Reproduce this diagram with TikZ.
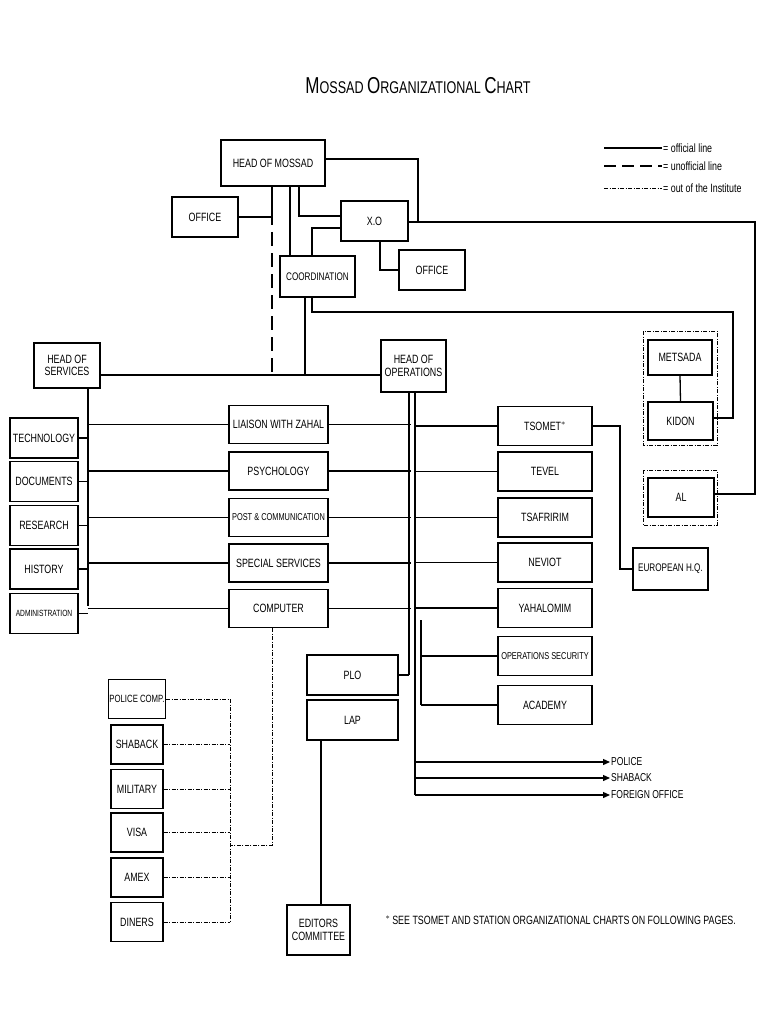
\documentclass[tikz,border=0pt]{standalone}
\usepackage{fontspec}
\setmainfont{Liberation Sans}[FakeStretch=0.74]
\usetikzlibrary{arrows.meta}
\begin{document}
\begin{tikzpicture}[x=1pt,y=-1pt,
  box/.style={draw,line width=1.2pt,inner sep=1pt,font=\fontsize{12}{12.5}\selectfont,align=center},
  ln/.style={line width=1.3pt},
  unoff/.style={line width=1.6pt,dash pattern=on 14pt off 7pt},
  outinst/.style={line width=0.9pt,dash pattern=on 4pt off 1.5pt on 1pt off 1.5pt},
  arr/.style={ln,-{Triangle[length=7pt,width=6pt]}}]
\fill[white] (0,0) rectangle (768,1024);
\useasboundingbox (0,0) rectangle (768,1024);
\node (title) at (418,86) {\fontsize{23}{24}\selectfont M\fontsize{17}{18}\selectfont OSSAD \fontsize{23}{24}\selectfont O\fontsize{17}{18}\selectfont RGANIZATIONAL \fontsize{23}{24}\selectfont C\fontsize{17}{18}\selectfont HART};
% legend
\coordinate (l1a) at (604,148); \coordinate (l1b) at (662,148);
\coordinate (l2a) at (604,166); \coordinate (l2b) at (662,166);
\coordinate (l3a) at (604,188); \coordinate (l3b) at (662,188);
\draw[ln] (l1a)--(l1b); \draw[unoff,dash pattern=on 12pt off 6pt] (l2a)--(l2b); \draw[outinst] (l3a)--(l3b);
\node[anchor=west,inner sep=1pt,font=\fontsize{12}{12}\selectfont] (t1) at (l1b) {= official line};
\node[anchor=west,inner sep=1pt,font=\fontsize{12}{12}\selectfont] (t2) at (l2b) {= unofficial line};
\node[anchor=west,inner sep=1pt,font=\fontsize{12}{12}\selectfont] (t3) at (l3b) {= out of the Institute};
% top boxes
\node[box,minimum width=104,minimum height=46] (hom) at (273,163) {HEAD OF MOSSAD};
\node[box,minimum width=66,minimum height=40] (off1) at (205,217) {OFFICE};
\node[box,minimum width=67,minimum height=40] (xo) at (374.5,221) {X.O};
\node[box,minimum width=66,minimum height=40] (off2) at (432,270) {OFFICE};
\node[box,minimum width=75,minimum height=41] (coord) at (317.5,276.5) {\fontsize{11}{12}\selectfont COORDINATION};
\node[box,minimum width=66,minimum height=45] (hos) at (67,365.5) {HEAD OF\\SERVICES};
\node[box,minimum width=65,minimum height=52] (hoo) at (413.5,366) {HEAD OF\\OPERATIONS};
\node[box,minimum width=64,minimum height=35] (mets) at (680,357.5) {METSADA};
\node[box,minimum width=65,minimum height=38] (kidon) at (680.5,421) {KIDON};
\node[box,minimum width=66,minimum height=39] (al) at (681,497.5) {AL};
\draw[outinst] (643,331) rectangle (717,445);
\draw[outinst] (643,470) rectangle (717,525);
% left column
\foreach \n/\y/\t in {tech/438/TECHNOLOGY,docs/481.5/DOCUMENTS,res/525.5/RESEARCH,hist/569/HISTORY,adm/613.5/{\fontsize{9}{10}\selectfont ADMINISTRATION}}
  \node[box,minimum width=68,minimum height=40] (\n) at (44,\y) {\t};
% middle column
\foreach \n/\y/\t in {lia/424.5/LIAISON WITH ZAHAL,psy/471/PSYCHOLOGY,post/517.5/{\fontsize{10}{11}\selectfont POST \& COMMUNICATION},spec/563/SPECIAL SERVICES,comp/608.5/COMPUTER}
  \node[box,minimum width=99,minimum height=38] (\n) at (278.5,\y) {\t};
% right column
\foreach \n/\y/\t in {tso/426/TSOMET$^{*}$,tev/471.5/TEVEL,tsa/517.5/TSAFRIRIM,nev/562.5/NEVIOT,yah/608/YAHALOMIM,ops/656/{\fontsize{10}{11}\selectfont OPERATIONS SECURITY},aca/705/ACADEMY}
  \node[box,minimum width=94,minimum height=39] (\n) at (545,\y) {\t};
\node[box,minimum width=75,minimum height=42] (euro) at (670.5,569) {\fontsize{11}{12}\selectfont EUROPEAN H.Q.};
\node[box,minimum width=91,minimum height=40] (plo) at (352.5,675) {PLO};
\node[box,minimum width=91,minimum height=40] (lap) at (352.5,720) {LAP};
\node[box,minimum width=63,minimum height=50] (ed) at (318.5,930) {EDITORS\\COMMITTEE};
\foreach \n/\y/\t in {pc/699/{\fontsize{10.5}{11}\selectfont POLICE COMP.},sha/744.5/SHABACK,mil/789/MILITARY,visa/832.5/VISA,amex/877.5/AMEX,din/922/DINERS}
  \node[box,minimum width=52,minimum height=39] (\n) at (137,\y) {\t};
% top connectors
\draw[ln] (off1.east) -- (off1.east -| 272,0);
\draw[ln] (hom.south -| 272,0) -- (272,211);
\draw[unoff] (272,211) -- (272,375);
\draw[ln] (hom.south -| 290,0) -- (coord.north -| 290,0);
\draw[ln] (hom.south -| 299,0) |- (xo.west |- 0,216);
\draw[ln] (hom.east |- 0,159) -| (418,222);
\draw[ln] (xo.east |- 0,222) -| (755,494) -- (al.east |- 0,494);
\draw[ln] (xo.south -| 380,0) |- (off2.west);
\draw[ln] (xo.west |- 0,228) -| (coord.north -| 312,0);
\draw[ln] (coord.south -| 312,0) |- (733,312) |- (kidon.east |- 0,418);
\draw[ln] (coord.south -| 305,0) -- (305,375);
\draw[ln] (hos.east |- 0,375) -- (hoo.west |- 0,375);
\draw[ln] (mets.south) -- (kidon.north);
% services
\draw[ln] (hos.south -| 88,0) -- (88,606);
\foreach \n in {tech,docs,res,hist,adm} \draw[ln] (\n.east) -- (\n.east -| 88,0);
\foreach \n in {lia,psy,post,spec,comp} {\draw[ln] (\n.west -| 88,0) -- (\n.west); \draw[ln] (\n.east) -- (\n.east -| 411,0);}
% operations
\draw[ln] (hoo.south -| 409,0) -- (409,675);
\draw[ln] (hoo.south -| 415,0) -- (415,795);
\draw[ln] (421,620) -- (421,705);
\foreach \n in {tso,tev,tsa,nev,yah} \draw[ln] (\n.west -| 415,0) -- (\n.west);
\foreach \n in {ops,aca} \draw[ln] (\n.west -| 421,0) -- (\n.west);
\draw[ln] (tso.east) -| (620,569) -- (euro.west);
\draw[ln] (plo.east) -- (plo.east -| 409,0);
\draw[ln] (lap.south -| 321,0) -- (ed.north -| 321,0);
% arrows
\coordinate (pa) at (610,762); \coordinate (sa) at (610,778); \coordinate (fa) at (610,795);
\draw[arr] (415,762) -- (pa); \draw[arr] (415,778) -- (sa); \draw[arr] (415,795) -- (fa);
\node[anchor=west,inner sep=1pt,font=\fontsize{11.5}{12}\selectfont] (pol) at (pa) {POLICE};
\node[anchor=west,inner sep=1pt,font=\fontsize{11.5}{12}\selectfont] (shb) at (sa) {SHABACK};
\node[anchor=west,inner sep=1pt,font=\fontsize{11.5}{12}\selectfont] (fo) at (fa) {FOREIGN OFFICE};
% out of institute
\draw[outinst] (comp.south -| 272,0) |- (230,845);
\draw[outinst] (230,699) -- (230,922);
\foreach \n in {pc,sha,mil,visa,amex,din} \draw[outinst] (\n.east) -- (\n.east -| 230,0);
\node[anchor=west,font=\fontsize{12}{13}\selectfont] (note) at (382,920) {$^{\ast}$\,SEE TSOMET AND STATION ORGANIZATIONAL CHARTS ON FOLLOWING PAGES.};
\end{tikzpicture}
\end{document}
